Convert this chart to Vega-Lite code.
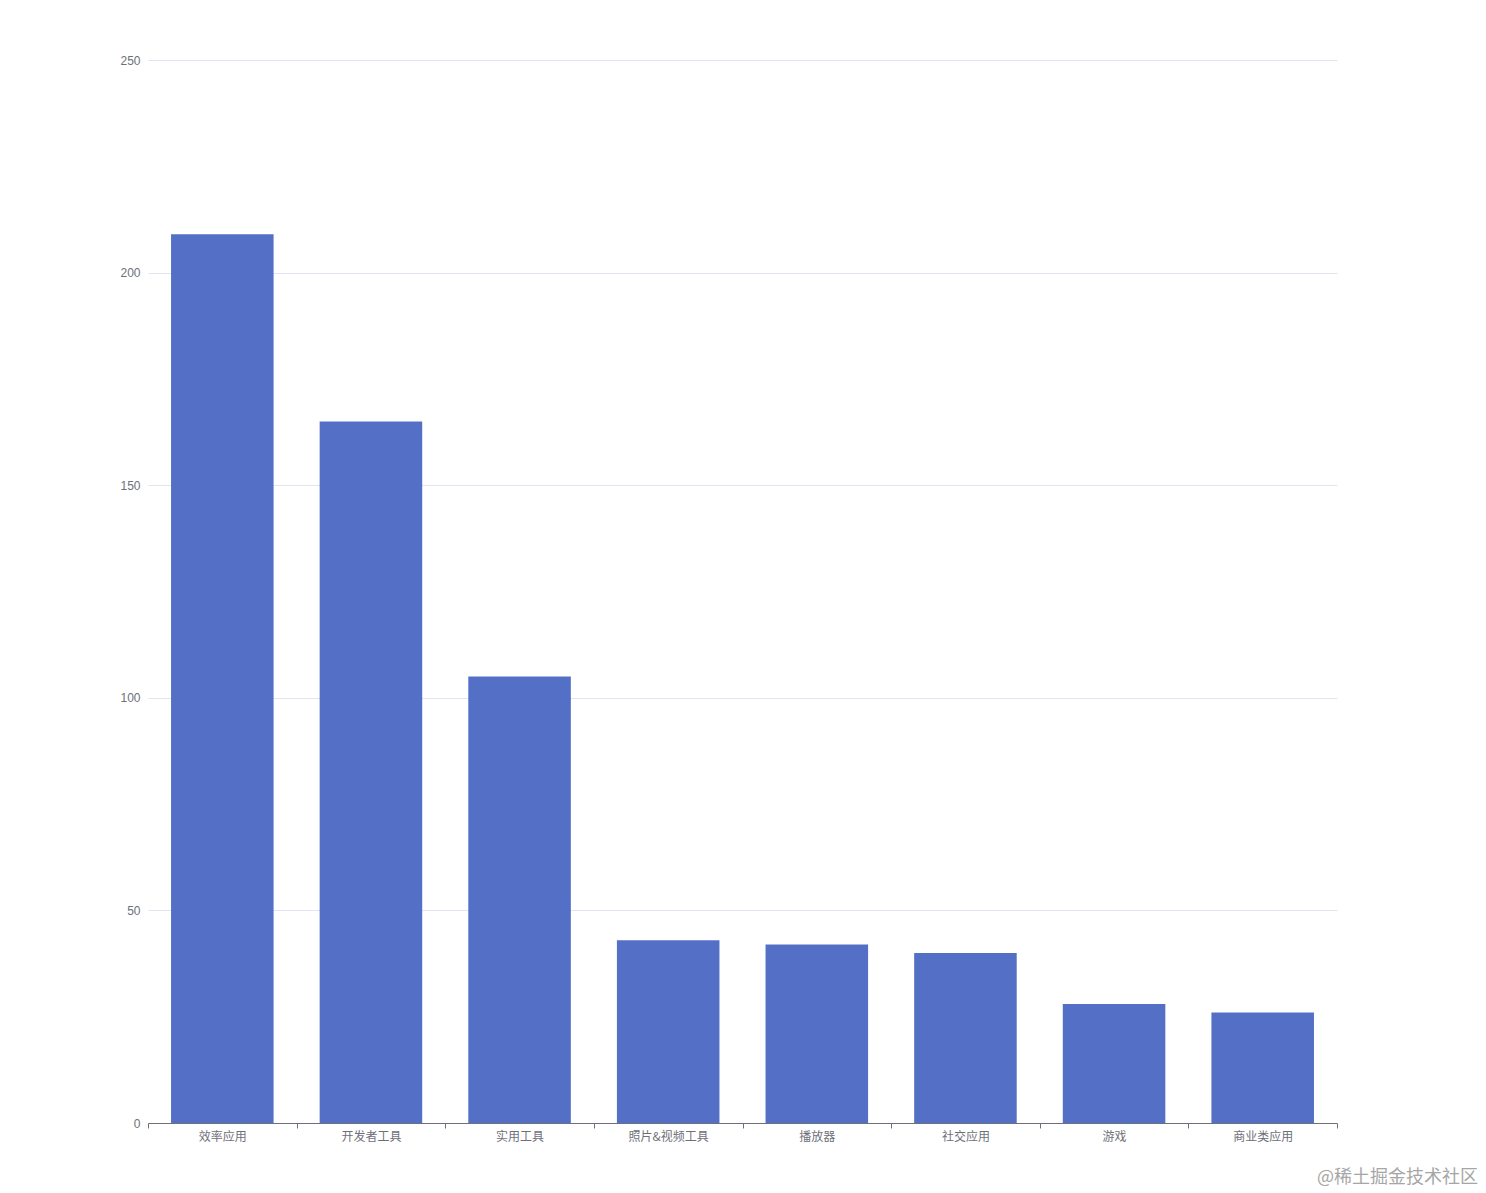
{
  "$schema": "https://vega.github.io/schema/vega-lite/v6.json",
  "autosize": {"type": "none"},
  "padding": {"left": 148, "top": 60, "right": 149, "bottom": 70},
  "width": 1189,
  "height": 1063,
  "background": "#ffffff",
  "config": {"view": {"stroke": null}},
  "title": {
    "text": "@稀土掘金技术社区",
    "orient": "bottom",
    "anchor": "end",
    "frame": "group",
    "dx": 141,
    "offset": 27,
    "font": "Noto Sans CJK SC",
    "fontSize": 18,
    "fontWeight": "normal",
    "color": "#a6a6a6"
  },
  "data": {
    "values": [
      {"category": "效率应用", "count": 209},
      {"category": "开发者工具", "count": 165},
      {"category": "实用工具", "count": 105},
      {"category": "照片&视频工具", "count": 43},
      {"category": "播放器", "count": 42},
      {"category": "社交应用", "count": 40},
      {"category": "游戏", "count": 28},
      {"category": "商业类应用", "count": 26}
    ]
  },
  "mark": {"type": "bar", "color": "#5470c6", "width": {"band": 0.69}},
  "encoding": {
    "x": {
      "field": "category",
      "type": "nominal",
      "sort": null,
      "scale": {"paddingInner": 0, "paddingOuter": 0},
      "axis": {
        "title": null,
        "labelAngle": 0,
        "labelFont": "Noto Sans CJK SC",
        "labelFontSize": 12,
        "labelColor": "#6e7079",
        "labelPadding": 3,
        "domainColor": "#6e7079",
        "tickColor": "#6e7079",
        "tickSize": 5,
        "tickBand": "extent",
        "grid": false
      }
    },
    "y": {
      "field": "count",
      "type": "quantitative",
      "scale": {"domain": [0, 250], "nice": false},
      "axis": {
        "title": null,
        "values": [0, 50, 100, 150, 200, 250],
        "domain": false,
        "ticks": false,
        "labelPadding": 8,
        "labelFont": "Liberation Sans",
        "labelFontSize": 12,
        "labelColor": "#6e7079",
        "gridColor": "#e0e6f1",
        "gridWidth": 1
      }
    }
  }
}
